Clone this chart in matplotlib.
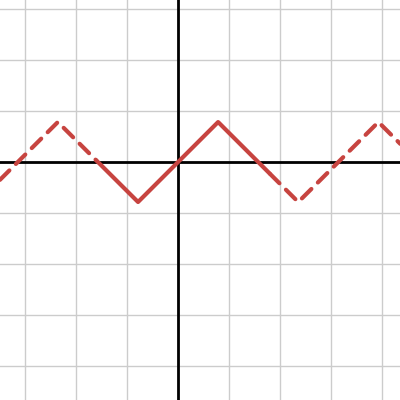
import numpy as np
import matplotlib.pyplot as plt

# vertices of the triangle wave (grid units)
xs = [-5.498, -3.927, -2.356, -0.785, 0.785, 2.356, 3.927, 5.498]
ys = [0.785, -0.785, 0.785, -0.785, 0.785, -0.785, 0.785, -0.785]
solid_lo, solid_hi = -1.6, 1.8

fig = plt.figure(figsize=(4, 4), dpi=100)
ax = fig.add_axes([0, 0, 1, 1])
ax.set_xlim(-3.49, 4.35)
ax.set_ylim(-4.67, 3.18)

for g in np.arange(-3, 5):
    ax.axvline(g, color='#cccccc', lw=1, zorder=0)
for g in np.arange(-4, 4):
    ax.axhline(g, color='#cccccc', lw=1, zorder=0)
ax.axvline(0, color='black', lw=2, zorder=1)
ax.axhline(0, color='black', lw=2, zorder=1)

x = np.array(xs)
y = np.array(ys)
xd = np.linspace(-5.5, 5.5, 2000)
yd = np.interp(xd, x, y)
m = (xd >= solid_lo) & (xd <= solid_hi)
ax.plot(np.where(m, xd, np.nan), yd, color='#c74440', lw=3, solid_capstyle='round', zorder=2)
ax.plot(np.where(m, np.nan, xd), yd, color='#c74440', lw=3, ls=(0, (3.2, 2.2)), dash_capstyle='round', zorder=2)

ax.axis('off')
fig.savefig('out.png')
